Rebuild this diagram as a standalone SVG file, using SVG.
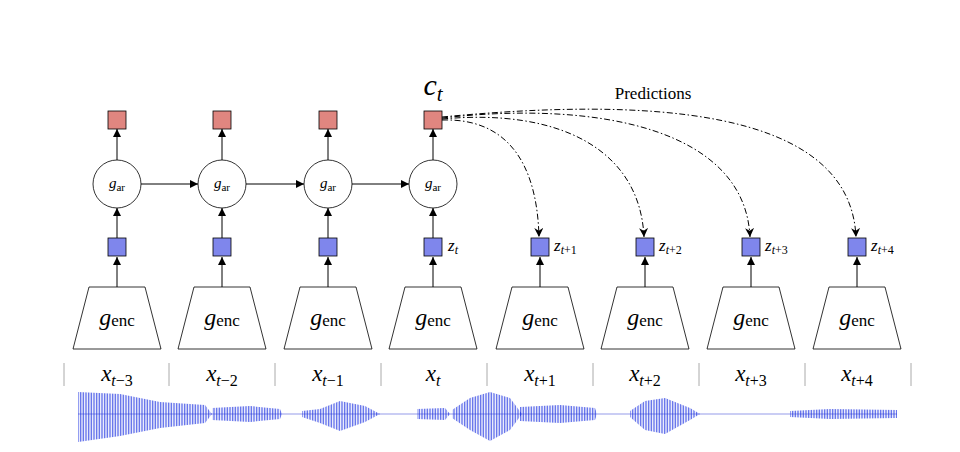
<svg xmlns="http://www.w3.org/2000/svg" width="960" height="452" viewBox="0 0 960 452">
<style>
.ln{stroke:#000;stroke-width:1;fill:none}
.red{fill:#e08680;stroke:#000;stroke-width:0.8}
.blue{fill:#7f86ec;stroke:#000;stroke-width:0.8}
.circ{fill:#fff;stroke:#000;stroke-width:0.8}
.trap{fill:#fff;stroke:#000;stroke-width:0.8}
text{font-family:"Liberation Serif","DejaVu Serif","Times New Roman",serif}
.m{font-style:italic;fill:#000}
.r{font-style:normal}
.sep{stroke:#aaa;stroke-width:1}
.pred{stroke:#000;stroke-width:1;fill:none;stroke-dasharray:6 2.5 1.5 2.5}
.wave{fill:url(#vl)}
</style>
<defs>
<marker id="ah" viewBox="0 0 10 10" refX="10" refY="5" markerWidth="8" markerHeight="8" markerUnits="userSpaceOnUse" orient="auto"><path d="M0,0L10,5L0,10z" fill="#000"/></marker>
<marker id="ah2" viewBox="0 0 10 10" refX="10" refY="5" markerWidth="9" markerHeight="9" markerUnits="userSpaceOnUse" orient="auto"><path d="M0,0L10,5L0,10L3,5z" fill="#000"/></marker>
<pattern id="vl" width="1.6" height="4" patternUnits="userSpaceOnUse"><rect width="0.6" height="4" fill="#1a2fe0"/></pattern>
</defs>
<g id="connectors">
<g marker-end="url(#ah)">
<path class="ln" d="M117,287V257"/><path class="ln" d="M222,287V257"/><path class="ln" d="M328,287V257"/><path class="ln" d="M433,287V257"/>
<path class="ln" d="M540,287V257"/><path class="ln" d="M645,287V257"/><path class="ln" d="M751,287V257"/><path class="ln" d="M857,287V257"/>
<path class="ln" d="M117,238V208"/><path class="ln" d="M222,238V208"/><path class="ln" d="M328,238V208"/><path class="ln" d="M433,238V208"/>
<path class="ln" d="M117,160V129"/><path class="ln" d="M222,160V129"/><path class="ln" d="M328,160V129"/><path class="ln" d="M433,160V129"/>
<path class="ln" d="M141,184H198"/><path class="ln" d="M246,184H304"/><path class="ln" d="M352,184H409"/>
</g>
<g marker-end="url(#ah2)">
<path class="pred" d="M442,120C505,118 537,160 539,237"/>
<path class="pred" d="M442,119C560,108 640,150 644,237"/>
<path class="pred" d="M442,118C600,100 745,130 750,237"/>
<path class="pred" d="M442,117C640,98 850,105 856,237"/>
</g>
</g>
<text class="m" x="433" y="95" font-size="30" text-anchor="middle">c<tspan font-size="21" dy="6">t</tspan></text>
<text x="653" y="99" font-size="17" text-anchor="middle">Predictions</text>
<g id="nodes">
<g id="n1"><rect class="red" x="108" y="111" width="18" height="18"/><circle class="circ" cx="117" cy="184" r="24"/><text class="m" x="117" y="188" font-size="15" text-anchor="middle">g<tspan class="r" font-size="11" dy="3">ar</tspan></text><rect class="blue" x="108" y="238" width="18" height="18"/><path class="trap" d="M89,287H145L161,349H73Z"/><text class="m" x="117" y="325" font-size="24" text-anchor="middle">g<tspan class="r" font-size="17" dy="1">enc</tspan></text><text class="m" x="117" y="381" font-size="23" text-anchor="middle">x<tspan font-size="16" dy="5">t<tspan class="r">−3</tspan></tspan></text></g>
<g id="n2"><rect class="red" x="213" y="111" width="18" height="18"/><circle class="circ" cx="222" cy="184" r="24"/><text class="m" x="222" y="188" font-size="15" text-anchor="middle">g<tspan class="r" font-size="11" dy="3">ar</tspan></text><rect class="blue" x="213" y="238" width="18" height="18"/><path class="trap" d="M194,287H250L266,349H178Z"/><text class="m" x="222" y="325" font-size="24" text-anchor="middle">g<tspan class="r" font-size="17" dy="1">enc</tspan></text><text class="m" x="222" y="381" font-size="23" text-anchor="middle">x<tspan font-size="16" dy="5">t<tspan class="r">−2</tspan></tspan></text></g>
<g id="n3"><rect class="red" x="319" y="111" width="18" height="18"/><circle class="circ" cx="328" cy="184" r="24"/><text class="m" x="328" y="188" font-size="15" text-anchor="middle">g<tspan class="r" font-size="11" dy="3">ar</tspan></text><rect class="blue" x="319" y="238" width="18" height="18"/><path class="trap" d="M300,287H356L372,349H284Z"/><text class="m" x="328" y="325" font-size="24" text-anchor="middle">g<tspan class="r" font-size="17" dy="1">enc</tspan></text><text class="m" x="328" y="381" font-size="23" text-anchor="middle">x<tspan font-size="16" dy="5">t<tspan class="r">−1</tspan></tspan></text></g>
<g id="n4"><rect class="red" x="424" y="111" width="18" height="18"/><circle class="circ" cx="433" cy="184" r="24"/><text class="m" x="433" y="188" font-size="15" text-anchor="middle">g<tspan class="r" font-size="11" dy="3">ar</tspan></text><rect class="blue" x="424" y="238" width="18" height="18"/><text class="m" x="448" y="251" font-size="17">z<tspan font-size="12" dy="3">t</tspan></text><path class="trap" d="M405,287H461L477,349H389Z"/><text class="m" x="433" y="325" font-size="24" text-anchor="middle">g<tspan class="r" font-size="17" dy="1">enc</tspan></text><text class="m" x="433" y="381" font-size="23" text-anchor="middle">x<tspan font-size="16" dy="5">t</tspan></text></g>
<g id="n5"><rect class="blue" x="531" y="238" width="18" height="18"/><text class="m" x="554" y="251" font-size="17">z<tspan font-size="12" dy="3">t<tspan class="r">+1</tspan></tspan></text><path class="trap" d="M512,287H568L584,349H496Z"/><text class="m" x="540" y="325" font-size="24" text-anchor="middle">g<tspan class="r" font-size="17" dy="1">enc</tspan></text><text class="m" x="540" y="381" font-size="23" text-anchor="middle">x<tspan font-size="16" dy="5">t<tspan class="r">+1</tspan></tspan></text></g>
<g id="n6"><rect class="blue" x="636" y="238" width="18" height="18"/><text class="m" x="659" y="251" font-size="17">z<tspan font-size="12" dy="3">t<tspan class="r">+2</tspan></tspan></text><path class="trap" d="M617,287H673L689,349H601Z"/><text class="m" x="645" y="325" font-size="24" text-anchor="middle">g<tspan class="r" font-size="17" dy="1">enc</tspan></text><text class="m" x="645" y="381" font-size="23" text-anchor="middle">x<tspan font-size="16" dy="5">t<tspan class="r">+2</tspan></tspan></text></g>
<g id="n7"><rect class="blue" x="742" y="238" width="18" height="18"/><text class="m" x="765" y="251" font-size="17">z<tspan font-size="12" dy="3">t<tspan class="r">+3</tspan></tspan></text><path class="trap" d="M723,287H779L795,349H707Z"/><text class="m" x="751" y="325" font-size="24" text-anchor="middle">g<tspan class="r" font-size="17" dy="1">enc</tspan></text><text class="m" x="751" y="381" font-size="23" text-anchor="middle">x<tspan font-size="16" dy="5">t<tspan class="r">+3</tspan></tspan></text></g>
<g id="n8"><rect class="blue" x="848" y="238" width="18" height="18"/><text class="m" x="871" y="251" font-size="17">z<tspan font-size="12" dy="3">t<tspan class="r">+4</tspan></tspan></text><path class="trap" d="M829,287H885L901,349H813Z"/><text class="m" x="857" y="325" font-size="24" text-anchor="middle">g<tspan class="r" font-size="17" dy="1">enc</tspan></text><text class="m" x="857" y="381" font-size="23" text-anchor="middle">x<tspan font-size="16" dy="5">t<tspan class="r">+4</tspan></tspan></text></g>
</g>
<g id="separators">
<path class="sep" d="M64,363V386M169,363V386M275,363V386M381,363V386M487,363V386M593,363V386M699,363V386M805,363V386M911,363V386"/>
</g>
<g id="waveform">
<path d="M78,414H897" stroke="#b8bdf0" stroke-width="1.5"/>
<path class="wave" d="M78,392L120,394L160,402L205,405L212,414L205,423L160,428L120,436L78,442Z"/>
<path class="wave" d="M212,408L250,406L280,409L282,414L280,419L250,422L212,420Z"/>
<path class="wave" d="M302,411L320,409L340,401L365,406L380,414L365,422L340,431L320,423L302,417Z"/>
<path class="wave" d="M417,409L445,408L450,414L445,420L417,419Z"/>
<path class="wave" d="M452,410L470,398L490,392L510,398L522,414L510,430L490,441L470,430L452,418Z"/>
<path class="wave" d="M520,407L560,405L595,408L597,414L595,420L560,423L520,421Z"/>
<path class="wave" d="M630,411L645,401L665,398L690,408L700,414L690,420L665,434L645,430L630,417Z"/>
<path class="wave" d="M790,411L830,409L897,410L897,418L830,419L790,417Z"/>
</g>
</svg>
